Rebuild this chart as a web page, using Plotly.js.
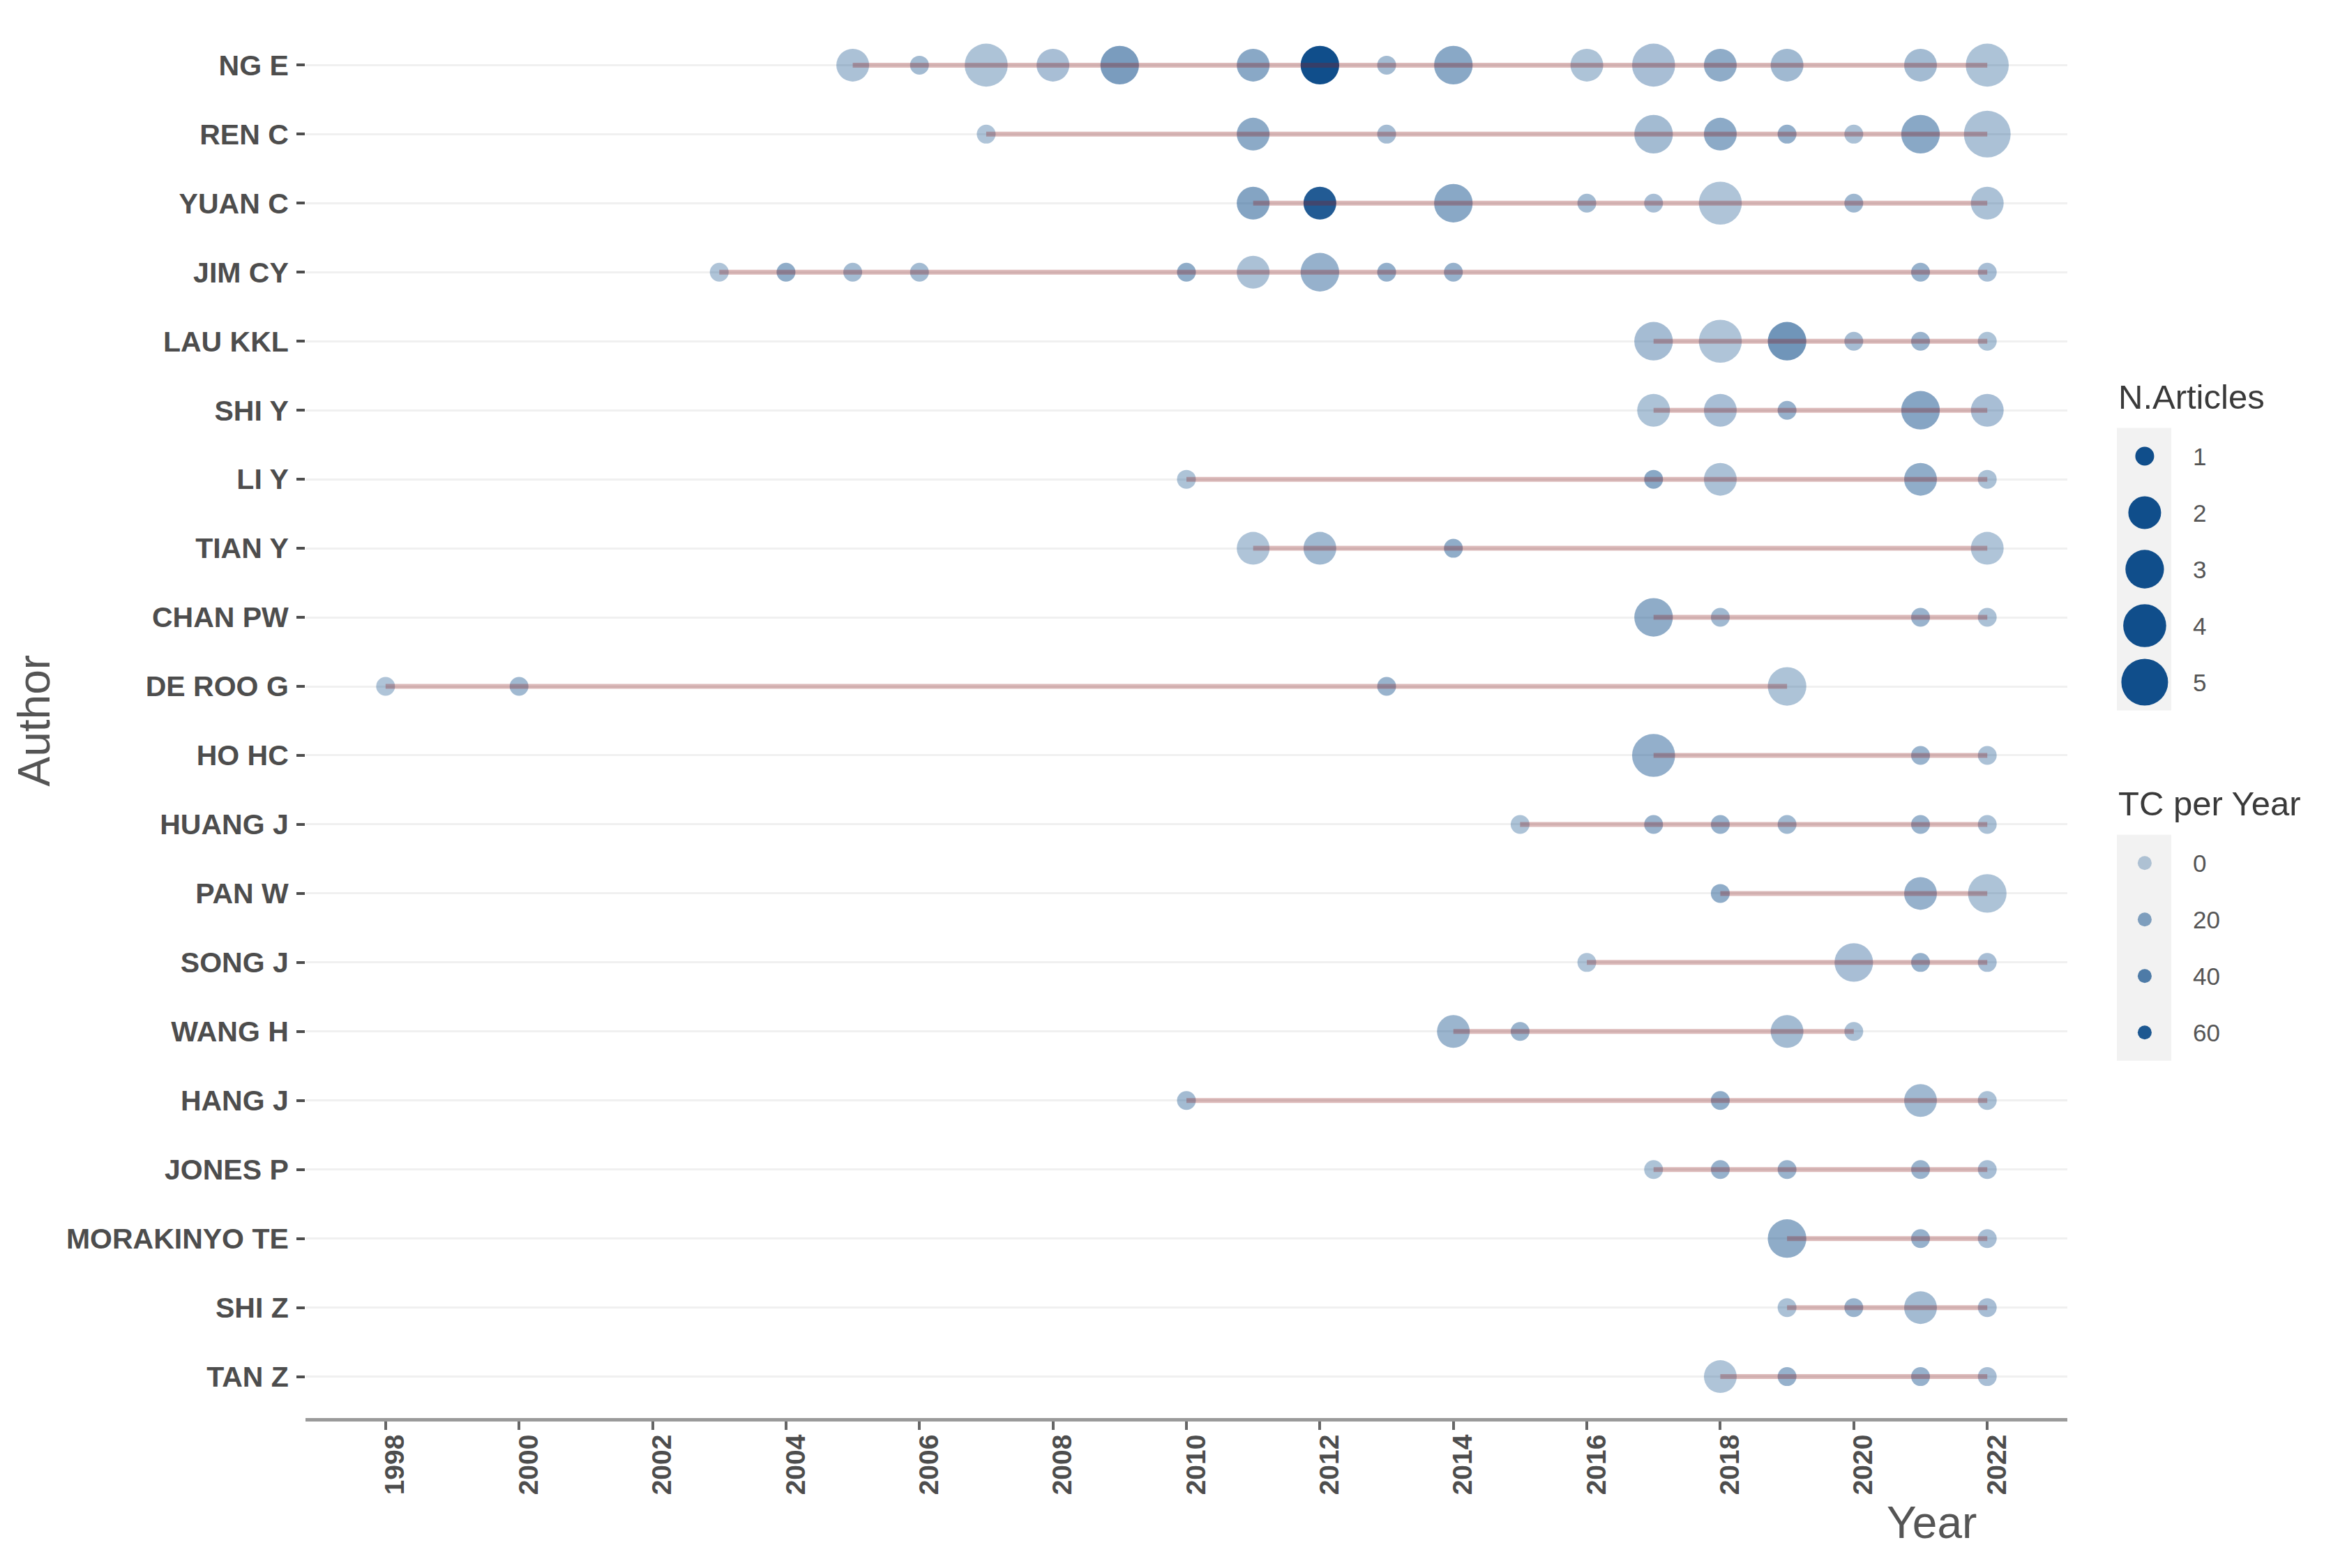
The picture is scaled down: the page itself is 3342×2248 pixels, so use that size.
<!DOCTYPE html>
<html><head><meta charset="utf-8">
<script src="https://cdn.plot.ly/plotly-3.0.1.min.js"></script>
<style>html,body{margin:0;padding:0;background:#fff}#chart{width:3342px;height:2248px}</style>
</head><body><div id="chart"></div>
<script>
// ---------------- data ----------------
const authors = ["NG E","REN C","YUAN C","JIM CY","LAU KKL","SHI Y","LI Y","TIAN Y","CHAN PW","DE ROO G",
  "HO HC","HUANG J","PAN W","SONG J","WANG H","HANG J","JONES P","MORAKINYO TE","SHI Z","TAN Z"];

const years = [
  [2005,2006,2007,2008,2009,2011,2012,2013,2014,2016,2017,2018,2019,2021,2022],
  [2007,2011,2013,2017,2018,2019,2020,2021,2022],
  [2011,2012,2014,2016,2017,2018,2020,2022],
  [2003,2004,2005,2006,2010,2011,2012,2013,2014,2021,2022],
  [2017,2018,2019,2020,2021,2022],
  [2017,2018,2019,2021,2022],
  [2010,2017,2018,2021,2022],
  [2011,2012,2014,2022],
  [2017,2018,2021,2022],
  [1998,2000,2013,2019],
  [2017,2021,2022],
  [2015,2017,2018,2019,2021,2022],
  [2018,2021,2022],
  [2016,2020,2021,2022],
  [2014,2015,2019,2020],
  [2010,2018,2021,2022],
  [2017,2018,2019,2021,2022],
  [2019,2021,2022],
  [2019,2020,2021,2022],
  [2018,2019,2021,2022]
];

const nArticles = [
  [2,1,4,2,3,2,3,1,3,2,4,2,2,2,4],
  [1,2,1,3,2,1,1,3,5],
  [2,2,3,1,1,4,1,2],
  [1,1,1,1,1,2,3,1,1,1,1],
  [3,4,3,1,1,1],
  [2,2,1,3,2],
  [1,1,2,2,1],
  [2,2,1,2],
  [3,1,1,1],
  [1,1,1,3],
  [4,1,1],
  [1,1,1,1,1,1],
  [1,2,3],
  [1,3,1,1],
  [2,1,2,1],
  [1,1,2,1],
  [1,1,1,1,1],
  [3,1,1],
  [1,1,2,1],
  [2,1,1,1]
];

const tcPerYear = [
  [5,8,4,6,24,18,65,8,18,4,6,16,9,8,4],
  [3,17,7,8,17,14,5,18,5],
  [20,58,18,8,6,3,10,5],
  [3,16,8,8,16,5,13,14,13,13,6],
  [7,3,28,7,12,4],
  [4,6,13,19,6],
  [4,18,5,15,5],
  [3,9,15,3],
  [16,9,12,5],
  [3,9,12,4],
  [14,12,5],
  [4,12,13,9,12,5],
  [15,13,4],
  [3,6,13,6],
  [11,12,8,5],
  [8,15,9,5],
  [4,13,12,12,6],
  [16,13,6],
  [5,12,8,6],
  [3,13,13,6]
];

const yearTicks = [1998,2000,2002,2004,2006,2008,2010,2012,2014,2016,2018,2020,2022];
const sizeBreaks = [1,2,3,4,5];
const alphaBreaks = [0,20,40,60];

// ---------------- scales ----------------
const allN = nArticles.flat();
const allTC = tcPerYear.flat();
const nMin = Math.min(...allN), nMax = Math.max(...allN);
const tcMin = 0, tcMax = Math.max(...allTC);
function sizeFor(n){ return 27 + 40*Math.sqrt((n-nMin)/(nMax-nMin)); }
function alphaFor(t){ return 0.3 + 0.7*(t-tcMin)/(tcMax-tcMin); }

const BLUE = 'rgb(16,78,139)';
const FONT = 'Liberation Sans, Arial, Helvetica, sans-serif';

// points
const px=[], py=[], ps=[], pa=[];
authors.forEach((a,i)=>{
  years[i].forEach((y,j)=>{
    px.push(y); py.push(a);
    ps.push(sizeFor(nArticles[i][j]));
    pa.push(alphaFor(tcPerYear[i][j]));
  });
});
const points = {
  type:'scatter', mode:'markers', x:px, y:py, xaxis:'x', yaxis:'y',
  marker:{color:BLUE, size:ps, opacity:pa, line:{width:0}},
  showlegend:false, hoverinfo:'x+y'
};

// lines (drawn on top, like the original)
const lx=[], ly=[];
authors.forEach((a,i)=>{
  lx.push(Math.min(...years[i]), Math.max(...years[i]), null);
  ly.push(a, a, null);
});
const lines = {
  type:'scatter', mode:'lines', x:lx, y:ly, xaxis:'x', yaxis:'y',
  line:{color:'rgba(139,26,26,0.3)', width:7}, connectgaps:false,
  showlegend:false, hoverinfo:'skip'
};

// hand-built legends on a second pair of axes
const keyX = 0.13, labX = 0.35, boxW = 0.254;
const tcOffset = 7.2;
const sizeKeys = {
  type:'scatter', mode:'markers', xaxis:'x2', yaxis:'y2',
  x:sizeBreaks.map(()=>keyX), y:sizeBreaks.map((b,i)=>i),
  marker:{color:BLUE, size:sizeBreaks.map(sizeFor), opacity:1, line:{width:0}},
  showlegend:false, hoverinfo:'skip'
};
const alphaKeys = {
  type:'scatter', mode:'markers', xaxis:'x2', yaxis:'y2',
  x:alphaBreaks.map(()=>keyX), y:alphaBreaks.map((b,i)=>tcOffset+i),
  marker:{color:BLUE, size:20, opacity:alphaBreaks.map(alphaFor), line:{width:0}},
  showlegend:false, hoverinfo:'skip'
};

const annotations = [];
sizeBreaks.forEach((b,i)=>annotations.push({xref:'x2',yref:'y2',x:labX,y:i,text:String(b),showarrow:false,
  xanchor:'left',yanchor:'middle',font:{family:FONT,size:35,color:'#555'}}));
alphaBreaks.forEach((b,i)=>annotations.push({xref:'x2',yref:'y2',x:labX,y:tcOffset+i,text:String(b),showarrow:false,
  xanchor:'left',yanchor:'middle',font:{family:FONT,size:35,color:'#555'}}));
annotations.push({xref:'x2',yref:'y2',x:0,y:-1.05,text:'N.Articles',showarrow:false,xanchor:'left',yanchor:'middle',
  font:{family:FONT,size:49,color:'#3a3a3a'}});
annotations.push({xref:'x2',yref:'y2',x:0,y:tcOffset-1.05,text:'TC per Year',showarrow:false,xanchor:'left',yanchor:'middle',
  font:{family:FONT,size:49,color:'#3a3a3a'}});
// axis titles
annotations.push({xref:'paper',yref:'paper',x:(48-438)/2904,y:0.5,text:'Author',textangle:-90,showarrow:false,
  xanchor:'center',yanchor:'middle',font:{family:FONT,size:64,color:'#555'}});
annotations.push({xref:'paper',yref:'paper',x:(2769-438)/2904,y:(2033-2183)/1999,text:'Year',showarrow:false,
  xanchor:'center',yanchor:'middle',font:{family:FONT,size:64,color:'#555'}});

const shapes = [
  {type:'rect',xref:'x2',yref:'y2',x0:0,x1:boxW,y0:-0.5,y1:sizeBreaks.length-0.5,fillcolor:'#f2f2f2',line:{width:0},layer:'below'},
  {type:'rect',xref:'x2',yref:'y2',x0:0,x1:boxW,y0:tcOffset-0.5,y1:tcOffset+alphaBreaks.length-0.5,fillcolor:'#f2f2f2',line:{width:0},layer:'below'}
];

const layout = {
  width:3342, height:2248,
  margin:{l:438, r:0, t:34, b:215},
  paper_bgcolor:'#fff', plot_bgcolor:'#fff',
  showlegend:false,
  font:{family:FONT},
  xaxis:{
    domain:[0,(2964-438)/2904], range:[1996.8,2023.2],
    tickmode:'array', tickvals:yearTicks, ticktext:yearTicks.map(String),
    tickangle:-90, ticks:'outside', ticklen:12, tickwidth:4, tickcolor:'#666',
    tickfont:{family:FONT,size:39,color:'#4d4d4d',weight:'bold'},
    ticklabelshift:14, ticklabelstandoff:-9,
    showline:true, linecolor:'#9a9a9a', linewidth:5,
    showgrid:false, zeroline:false, fixedrange:true
  },
  yaxis:{
    type:'category', categoryorder:'array', categoryarray:authors,
    range:[authors.length-0.4,-0.6],
    ticks:'outside', ticklen:12, tickwidth:4, tickcolor:'#4d4d4d',
    tickfont:{family:FONT,size:41,color:'#4d4d4d',weight:'bold'},
    ticklabelstandoff:3,
    showgrid:true, gridcolor:'#f0f0f0', gridwidth:3,
    showline:false, zeroline:false, fixedrange:true
  },
  xaxis2:{domain:[(3035-438)/2904,1], range:[0,1], anchor:'y2', visible:false, fixedrange:true},
  yaxis2:{domain:[0,1], range:[(2033-654)/81,(34-654)/81], anchor:'x2', visible:false, fixedrange:true},
  annotations:annotations, shapes:shapes
};

Plotly.newPlot('chart',[points,lines,sizeKeys,alphaKeys],layout,{displayModeBar:false,staticPlot:true});
</script></body></html>
